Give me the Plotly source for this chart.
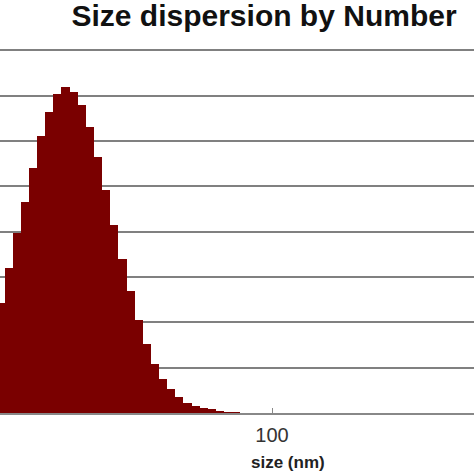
import numpy as np
import plotly.graph_objects as go

# Bin centres (nm) and number distribution (%)
sizes_nm = [21.13, 22.13, 23.18, 24.29, 25.44, 26.65, 27.92, 29.25, 30.65, 32.11,
            33.63, 35.24, 36.91, 38.67, 40.51, 42.44, 44.46, 46.58, 48.80, 51.12,
            53.56, 56.11, 58.78, 61.58, 64.51, 67.58, 70.80, 74.17, 77.70, 81.40]
number_pct = [2.43, 3.19, 3.97, 4.65, 5.40, 6.11, 6.63, 7.03, 7.18, 7.07,
              6.80, 6.30, 5.65, 4.91, 4.14, 3.39, 2.69, 2.06, 1.53, 1.09,
              0.76, 0.53, 0.35, 0.22, 0.15, 0.10, 0.08, 0.05, 0.02, 0.01]
bin_width_dec = 0.0205           # bin width in decades (slight overlap, no seams)
tick_vals_nm = [100]
tick_text = ["100"]
minor_grid_nm = [30, 40, 50, 60, 70, 80, 90, 200, 300]
x_range_nm = [21.05, 318.0]
y_range = [0, 8.315]

logx = np.log10(sizes_nm)

fig = go.Figure()
fig.add_trace(go.Bar(
    x=logx, y=number_pct, width=[bin_width_dec] * len(sizes_nm),
    marker=dict(color="#7a0000", line=dict(width=0)),
    showlegend=False, hoverinfo="skip",
))

shapes = []
for v in minor_grid_nm:
    shapes.append(dict(type="line", xref="x", yref="paper",
                       x0=np.log10(v), x1=np.log10(v), y0=0, y1=1,
                       line=dict(color="white", width=2), layer="between"))

fig.update_layout(
    width=474, height=474,
    margin=dict(l=0, r=0, t=36, b=61),
    paper_bgcolor="white", plot_bgcolor="white",
    bargap=0,
    title=dict(text="<b>Size dispersion by Number</b>",
               font=dict(family="Liberation Sans, Arial, sans-serif", size=30, color="#111"),
               x=0.557, xref="container", xanchor="center",
               y=0.968, yref="container", yanchor="middle"),
    xaxis=dict(range=[np.log10(x_range_nm[0]), np.log10(x_range_nm[1])],
               tickvals=list(np.log10(tick_vals_nm)), ticktext=tick_text,
               showgrid=False, zeroline=False,
               showline=True, linecolor="#888", linewidth=1.5,
               ticks="inside", ticklen=5, tickcolor="#888", tickwidth=1,
               ticklabelstandoff=3,
               tickfont=dict(family="Liberation Sans, Arial, sans-serif", size=20, color="#333")),
    yaxis=dict(range=y_range, dtick=1, showticklabels=False,
               showgrid=True, gridcolor="#808080", gridwidth=1.6,
               zeroline=False, showline=False, ticks=""),
    shapes=shapes,
    annotations=[dict(text="<b>size (nm)</b>", xref="paper", yref="paper",
                      x=0.608, y=-0.131, xanchor="center", yanchor="middle",
                      showarrow=False,
                      font=dict(family="Liberation Sans, Arial, sans-serif", size=17, color="#222"))],
)

fig.write_html("out.html",
               config={"displayModeBar": False},
               post_script="document.body.style.margin='0';document.body.style.padding='0';"
                           "document.body.style.overflow='hidden';")
